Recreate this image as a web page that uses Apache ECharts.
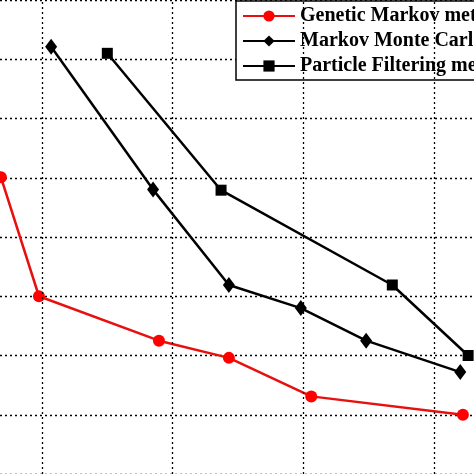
<!DOCTYPE html><html><head><meta charset="utf-8"><script src="https://cdn.jsdelivr.net/npm/echarts@6/dist/echarts.min.js"></script>
<style>html,body{margin:0;padding:0;background:#fff}#c{width:474px;height:474px}</style></head><body><div id="c"></div><script>
const names=['Genetic Markov method','Markov Monte Carlo method','Particle Filtering method'];
const genetic=[[0.686,5.01],[0.977,3.0],[1.895,2.25],[2.43,1.96],[3.06,1.31],[4.22,1.0]];
const mcmc=[[1.07,7.21],[1.85,4.80],[2.43,3.19],[2.98,2.80],[3.48,2.25],[4.20,1.72]];
const pf=[[1.50,7.10],[2.37,4.79],[3.68,3.19],[4.26,2.0]];
const xGrid=[1,2,3,4];
const yGrid=[1,2,3,4,5,6,7];
const ch=echarts.init(document.getElementById('c'));
const gl={type:[2,3],color:'#000',width:1.3};
ch.setOption({animation:false,
grid:{left:0,right:0,top:0,bottom:0},
xAxis:{type:'value',min:0.679,max:4.305,axisLabel:{show:false},axisTick:{show:false},axisLine:{show:false},splitLine:{show:false}},
yAxis:{type:'value',min:0,max:8,interval:1,axisLabel:{show:false},axisTick:{show:false},axisLine:{show:false},splitLine:{lineStyle:gl}},
legend:{orient:'vertical',left:236,top:1,itemGap:5,itemWidth:52,itemHeight:14,padding:[5,8,4,6],backgroundColor:'#fff',borderColor:'#000',borderWidth:1.5,
textStyle:{fontFamily:'Liberation Serif',fontWeight:'bold',fontSize:20,color:'#000'},data:names},
series:[
{name:'grid',type:'line',data:[],silent:true,markLine:{silent:true,symbol:'none',label:{show:false},lineStyle:gl,animation:false,data:xGrid.map(v=>({xAxis:v}))}},
{name:names[0],type:'line',data:genetic,color:'#e8100f',symbol:'circle',symbolSize:12,lineStyle:{width:2.5,color:'#e8100f'},itemStyle:{color:'#ff0000'}},
{name:names[1],type:'line',data:mcmc,color:'#000',symbol:'diamond',symbolSize:[12,16],lineStyle:{width:2.5,color:'#000'},itemStyle:{color:'#000'}},
{name:names[2],type:'line',data:pf,color:'#000',symbol:'rect',symbolSize:11,lineStyle:{width:2.5,color:'#000'},itemStyle:{color:'#000'}}
]});
</script></body></html>
